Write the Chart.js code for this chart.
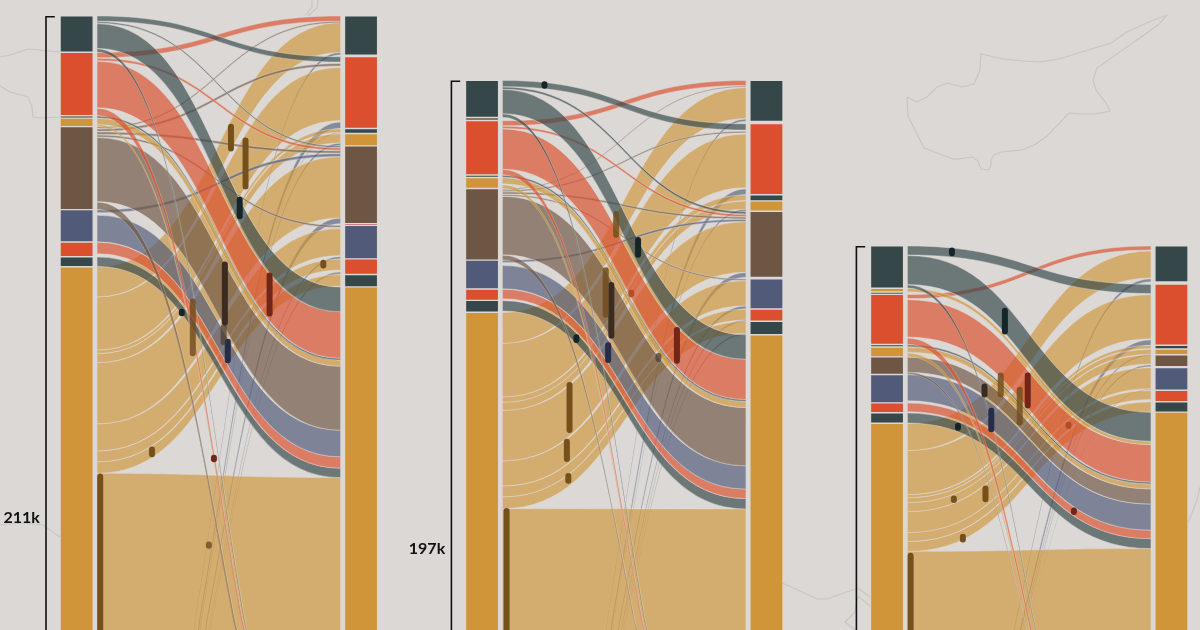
<!DOCTYPE html>
<html>
<head>
<meta charset="utf-8">
<title>Flows</title>
<style>
  html, body { margin: 0; padding: 0; background: #dbd8d5; overflow: hidden; }
  canvas { display: block; }
</style>
<script src="https://cdn.jsdelivr.net/npm/chart.js@4"></script>
</head>
<body>
<canvas id="myChart" width="1200" height="630"></canvas>
<script>
// values are in thousands
const panelLabels = ['211k', '197k', '164k'];
const panelTotals = [211, 197, 164];

// panel 1
const p1LeftNodes = ['A', 'B', 'C', 'D', 'E', 'F', 'G', 'H', 'I', 'L', 'J', 'K'];
const p1LeftValues = [7.6, 13.3, 0.4, 1.7, 17.4, 6.75, 3, 2, 121.55, 8, 3.8, 0.7];
const p1RightNodes = ['A', 'P', 'B', 'C', 'D', 'E', 'X', 'F', 'G', 'H', 'I', 'Y', 'Z'];
const p1RightValues = [8.2, 0.2, 15.1, 0.95, 2.5, 16.35, 0.2, 7, 3.2, 2.5, 118.2, 5, 8];
const p1RightStacks = ['B E I J', '', 'A E I J', 'I K', 'I J', 'A B E F I J', '', 'E I J', 'I K', 'I', 'A B C D E F G H I', 'D B A E', 'L'];
const p1From = ['A', 'A', 'A', 'A', 'B', 'B', 'B', 'B', 'C', 'D', 'D', 'E', 'E', 'E', 'E', 'E', 'E', 'F', 'F', 'G', 'H', 'I', 'I', 'I', 'I', 'I', 'I', 'I', 'I', 'I', 'L', 'J', 'J', 'J', 'J', 'J', 'K', 'K'];
const p1To = ['B', 'E', 'I', 'Y', 'A', 'E', 'I', 'Y', 'I', 'I', 'Y', 'A', 'B', 'E', 'F', 'I', 'Y', 'E', 'I', 'I', 'I', 'A', 'B', 'C', 'D', 'E', 'F', 'G', 'H', 'I', 'Z', 'A', 'B', 'D', 'E', 'F', 'C', 'G'];
const p1Flow = [1.1, 0.3, 5.2, 0.65, 1.1, 0.5, 9.8, 1.5, 0.4, 1.3, 0.4, 0.3, 0.5, 0.5, 0.4, 13.5, 1.5, 0.6, 5.6, 2.4, 2, 6.3, 11.2, 0.75, 1.9, 12.9, 5.7, 2.3, 2.4, 78, 8, 0.5, 1.3, 0.5, 1.1, 0.4, 0.2, 0.5];
const p1PillAt = [0.55, 0.61, 0.586, 0.525, 0.52, 0.709, 0.393, 0.348, 0.537, 0.225, 0.48, 0.459, 0.93, 0.012];
const p1PillFrom = [22.8, 25.7, 38.2, 51.9, 65.2, 54.2, 59.7, 62.4, 68.2, 90.9, 93.2, 111.5, 51.5, 96.6];
const p1PillTo = [28.5, 36.5, 42.8, 65.2, 69.4, 63.3, 71.7, 62.7, 73.2, 93, 93.5, 111.8, 53.2, 133];
const p1PillTone = ['g', 'g', 's', 'b', 'b2', 'r', 'g2', 's', 'n', 'g', 'r', 'g2', 'g', 'g'];

// panel 2
const p2LeftNodes = ['A', 'E2', 'B', 'C', 'D', 'E', 'F', 'G', 'H', 'I', 'L', 'J', 'K'];
const p2LeftValues = [7.75, 0.55, 11.4, 0.4, 2.25, 15, 6, 2.3, 2.4, 115.4, 10.5, 3.5, 0.8];
const p2RightNodes = ['A', 'P', 'B', 'C', 'D', 'E', 'P', 'F', 'G', 'H', 'I', 'Y', 'Z'];
const p2RightValues = [8.6, 0.35, 14.9, 1.2, 2.1, 13.85, 0.2, 6.25, 2.5, 2.75, 110.7, 4.3, 10.5];
const p2RightStacks = ['B E I J', '', 'A E I J', 'I', 'I J', 'A B E F I J', '', 'E I J', 'I K', 'I K', 'A B C D E F G H I', 'D B A E', 'L'];
const p2From = ['A', 'A', 'A', 'A', 'B', 'B', 'B', 'B', 'C', 'D', 'D', 'E', 'E', 'E', 'E', 'E', 'E', 'F', 'F', 'G', 'H', 'I', 'I', 'I', 'I', 'I', 'I', 'I', 'I', 'I', 'L', 'J', 'J', 'J', 'J', 'J', 'K', 'K'];
const p2To = ['B', 'E', 'I', 'Y', 'A', 'E', 'I', 'Y', 'I', 'I', 'Y', 'A', 'B', 'E', 'F', 'I', 'Y', 'E', 'I', 'I', 'I', 'A', 'B', 'C', 'D', 'E', 'F', 'G', 'H', 'I', 'Z', 'A', 'B', 'D', 'E', 'F', 'G', 'H'];
const p2Flow = [1.3, 0.5, 5.1, 0.7, 1.05, 0.5, 8.5, 1.1, 0.4, 1.3, 0.7, 0.2, 0.3, 0.4, 0.3, 12.3, 1, 0.45, 4.9, 2, 2.2, 6.5, 11.3, 1.15, 1.7, 10.65, 5.3, 2.3, 2.5, 74, 10.5, 0.45, 1.15, 0.4, 0.95, 0.55, 0.4, 0.4];
const p2PillAt = [0.172, 0.467, 0.557, 0.424, 0.447, 0.529, 0.303, 0.434, 0.717, 0.641, 0.275, 0.264, 0.27, 0.016];
const p2PillFrom = [0.8, 27.6, 33.1, 39.5, 42.6, 44.8, 53.6, 55.3, 52.1, 57.6, 63.7, 75.7, 82.9, 90.3];
const p2PillTo = [1.1, 33.1, 37.3, 50, 54.4, 45.1, 55.3, 59.5, 59.7, 59.3, 74.3, 80.4, 85, 133];
const p2PillTone = ['s', 'g2', 's', 'g2', 'b', 'o', 's', 'n', 'r', 'b2', 'g', 'g', 'g', 'g'];

// panel 3
const p3LeftNodes = ['A', 'D2', 'E2', 'B', 'C', 'D', 'E', 'F', 'G', 'H', 'I', 'J', 'K', 'L'];
const p3LeftValues = [8.85, 0.7, 0.4, 10.5, 0.4, 2, 3.6, 5.9, 2, 2.1, 88, 2.25, 0.2, 12];
const p3RightNodes = ['A', 'P', 'B', 'C', 'D', 'E', 'P', 'F', 'G', 'H', 'I', 'Z', 'Y'];
const p3RightValues = [7.55, 0.35, 12.8, 0.7, 1.1, 2.4, 0.1, 4.7, 2.3, 2.1, 89.75, 12, 3.4];
const p3RightStacks = ['B I J', '', 'A I J', 'I', 'I J', 'I J', '', 'I K', 'I', 'I', 'A D2 B C D E F G H I', 'L', 'D B A E'];
const p3From = ['A', 'A', 'A', 'D2', 'B', 'B', 'B', 'C', 'D', 'D', 'E', 'E', 'F', 'G', 'H', 'I', 'I', 'I', 'I', 'I', 'I', 'I', 'I', 'I', 'J', 'J', 'J', 'J', 'K', 'L'];
const p3To = ['B', 'I', 'Y', 'I', 'A', 'I', 'Y', 'I', 'I', 'Y', 'I', 'Y', 'I', 'I', 'I', 'A', 'B', 'C', 'D', 'E', 'F', 'G', 'H', 'I', 'A', 'B', 'D', 'E', 'F', 'Z'];
const p3Flow = [1.9, 6.1, 0.6, 0.7, 0.85, 7.9, 1.3, 0.4, 1.05, 0.7, 3.2, 0.4, 5.5, 1.8, 2.1, 5.7, 9.3, 0.65, 1.05, 1.9, 4.4, 1.9, 2.1, 61, 0.6, 1.05, 0.3, 0.3, 0.2, 12];
const p3PillAt = [0.182, 0.4, 0.316, 0.383, 0.461, 0.494, 0.344, 0.207, 0.662, 0.19, 0.32, 0.227, 0.684, 0.012];
const p3PillFrom = [0.4, 13.1, 29.1, 26.8, 29.8, 26.8, 34.2, 37.4, 37.7, 53.3, 50.6, 60.8, 55.8, 64.8];
const p3PillTo = [2.1, 18.6, 31.9, 31.9, 37.8, 34.2, 39.2, 38.9, 38, 53.6, 54, 62.5, 56.1, 133];
const p3PillTone = ['s', 's', 'b', 'g2', 'g2', 'r', 'n', 's', 'o', 'g', 'g', 'g', 'r', 'g'];

// faint map in the background
const mapCyprus = [[907, 97], [917, 102], [927, 97], [937, 87], [948, 83], [962, 87], [974, 84], [980, 70], [981, 54], [1003, 59], [1023, 61], [1040, 62], [1059, 59], [1111, 43], [1127, 32], [1151, 21], [1167, 15], [1158, 25], [1097, 68], [1093, 80], [1096, 90], [1106, 103], [1110, 111], [1095, 114], [1083, 114], [1069, 113], [1047, 136], [1036, 144], [1022, 150], [1001, 152], [994, 155], [991, 160], [991, 165], [989, 170], [981, 169], [978, 161], [972, 157], [958, 159], [953, 159], [924, 148], [908, 116], [907, 97]];
const mapCoasts = [
  [[0, 57], [10, 55], [28, 49], [60, 52]],
  [[0, 86], [10, 92], [28, 97], [32, 107], [33, 117], [40, 118], [60, 117]],
  [[318, 0], [317, 8], [308, 16]],
  [[312, 0], [312, 7], [306, 15]],
  [[0, 525], [23, 523], [43, 525], [60, 537]],
  [[782, 583], [800, 591], [817, 599], [827, 599], [858, 588], [870, 597]],
  [[870, 606], [858, 596], [855, 612], [845, 622], [855, 630]],
  [[1200, 487], [1197, 500], [1188, 523]]
];

// colours per node
const nodeColors = {
  A: '#36474a', B: '#db4f2e', C: '#36474a', D: '#d09539', D2: '#d09539', E: '#6e5645', E2: '#6e5645',
  F: '#515a79', G: '#db4f2e', H: '#36474a', I: '#d09539', L: '#d09539', J: '#515a79', K: '#6e5645',
  X: '#b8203a', P: '#dbd8d5', Y: '#d09539', Z: '#d09539'
};
const flowColors = {
  A: 'rgba(54,71,74,.67)', B: 'rgba(219,79,46,.67)', C: 'rgba(54,71,74,.67)', D: 'rgba(208,149,57,.67)', D2: 'rgba(208,149,57,.67)',
  E: 'rgba(110,86,69,.67)', E2: 'rgba(110,86,69,.67)', F: 'rgba(81,90,121,.67)', G: 'rgba(219,79,46,.67)', H: 'rgba(54,71,74,.67)',
  I: 'rgba(208,149,57,.65)', L: 'rgba(208,149,57,.65)', J: 'rgba(81,90,121,.62)', K: 'rgba(110,86,69,.5)'
};
const pillColors = {
  g: '#76501b', g2: 'rgba(112,76,30,.82)', s: '#15262b', b: '#3b2c22', b2: 'rgba(70,60,55,.7)',
  r: '#72261a', n: '#252d49', o: 'rgba(170,72,30,.85)'
};

// layout
const kToPx = 1000 / 211;
const panelTops = [16 / kToPx, 80.5 / kToPx, 246 / kToPx];
const panelLefts = [60.3, 465.7, 870.7];
const nodeWidth = 32.7;
const flowLeft = 37;
const flowRight = 280;
const rightNode = 284.4;
const nodeGap = 0.1;
const capTrim = 0.55;

const panels = [
  { leftNodes: p1LeftNodes, leftValues: p1LeftValues, rightNodes: p1RightNodes, rightValues: p1RightValues, stacks: p1RightStacks, from: p1From, to: p1To, flow: p1Flow, at: p1PillAt, pf: p1PillFrom, pt: p1PillTo, tone: p1PillTone },
  { leftNodes: p2LeftNodes, leftValues: p2LeftValues, rightNodes: p2RightNodes, rightValues: p2RightValues, stacks: p2RightStacks, from: p2From, to: p2To, flow: p2Flow, at: p2PillAt, pf: p2PillFrom, pt: p2PillTo, tone: p2PillTone },
  { leftNodes: p3LeftNodes, leftValues: p3LeftValues, rightNodes: p3RightNodes, rightValues: p3RightValues, stacks: p3RightStacks, from: p3From, to: p3To, flow: p3Flow, at: p3PillAt, pf: p3PillFrom, pt: p3PillTo, tone: p3PillTone }
];

// walks a column of nodes, gives node bars and the start of every flow in it
function stackColumn(nodes, values, top, flowsOf, startOf) {
  let y = top;
  let bars = [];
  nodes.forEach((key, n) => {
    bars.push({ key: key, from: y, to: y + values[n] });
    let list = flowsOf(key, n);
    let used = list.reduce((s, f) => s + f.value, 0);
    let spare = list.length > 1 ? Math.max(0, values[n] - used) / (list.length - 1) : 0;
    let inner = y;
    list.forEach(f => {
      startOf(f, inner);
      inner += f.value + spare;
    });
    y += values[n] + nodeGap;
  });
  return bars;
}

function buildPanel(p, idx) {
  let top = panelTops[idx];
  let left = panelLefts[idx];
  let flows = p.from.map((s, i) => ({ from: s, to: p.to[i], value: p.flow[i] }));

  let leftBars = stackColumn(p.leftNodes, p.leftValues, top,
    key => flows.filter(f => f.from === key),
    (f, y) => { f.y0 = y; });
  let rightBars = stackColumn(p.rightNodes, p.rightValues, top,
    (key, n) => p.stacks[n].split(' ').filter(s => s)
      .map(s => flows.find(f => f.from === s && f.to === key)).filter(f => f),
    (f, y) => { f.y1 = y; });

  let ribbons = flows.map(f => ({
    type: 'line', order: 4, showLine: false, pointRadius: 0,
    flowHeight: f.value, flowColor: flowColors[f.from],
    // the steep ones would disappear under a full edge line
    flowEdge: (f.to === 'Y' || f.from === 'J' || f.from === 'K') ? 0.5 : 0.8,
    data: [{ x: left + flowLeft, y: f.y0 }, { x: left + flowRight, y: f.y1 }]
  }));

  let bars = {
    type: 'bar', order: 3, barThickness: nodeWidth, borderWidth: 0.8, borderSkipped: false,
    borderColor: '#dbd8d5', grouped: false,
    backgroundColor: leftBars.concat(rightBars).map(b => nodeColors[b.key]),
    data: leftBars.map(b => ({ x: left + nodeWidth / 2, y: [b.from, b.to] }))
      .concat(rightBars.map(b => ({ x: left + rightNode + nodeWidth / 2, y: [b.from, b.to] })))
  };

  let pills = p.at.map((t, i) => {
    // round caps stick out past the ends
    let trim = p.pt[i] - p.pf[i] > 2 * capTrim ? capTrim : 0;
    let x = left + flowLeft + t * (flowRight - flowLeft);
    return {
      type: 'line', order: 2, pointRadius: 0, tension: 0, borderWidth: 6, borderCapStyle: 'round',
      borderColor: pillColors[p.tone[i]],
      data: [{ x: x, y: top + p.pf[i] + trim }, { x: x, y: top + p.pt[i] - trim }]
    };
  });

  let bracket = {
    type: 'line', order: 1, pointRadius: 0, tension: 0, borderWidth: 1.6, borderColor: '#111', borderJoinStyle: 'miter',
    data: [{ x: left - 5.5, y: top + 0.15 }, { x: left - 14.3, y: top + 0.15 }, { x: left - 14.3, y: top + panelTotals[idx] }]
  };
  return ribbons.concat([bars], pills, [bracket]);
}

// map strokes use their own hidden axis
function mapDataset(points) {
  return {
    type: 'line', order: 5, yAxisID: 'mapY', pointRadius: 0, tension: 0, borderWidth: 1.1, borderColor: '#c9c6be',
    data: points.map(pt => ({ x: pt[0], y: pt[1] }))
  };
}

// draws the curved ribbon for the datasets that have a flowHeight
const ribbonPlugin = {
  id: 'ribbons',
  afterDatasetDraw(chart, args) {
    let ds = chart.data.datasets[args.index];
    if (ds.flowHeight === undefined) return;
    let pts = args.meta.data;
    let scale = chart.scales.y;
    let h = scale.getPixelForValue(ds.data[0].y + ds.flowHeight) - pts[0].y;
    let x0 = pts[0].x, y0 = pts[0].y, x1 = pts[1].x, y1 = pts[1].y, xm = (x0 + x1) / 2;
    let ctx = chart.ctx;
    ctx.save();
    ctx.beginPath();
    ctx.moveTo(x0, y0);
    ctx.bezierCurveTo(xm, y0, xm, y1, x1, y1);
    ctx.lineTo(x1, y1 + h);
    ctx.bezierCurveTo(xm, y1 + h, xm, y0 + h, x0, y0 + h);
    ctx.closePath();
    ctx.fillStyle = ds.flowColor;
    ctx.fill();
    ctx.strokeStyle = 'rgba(224,221,218,.55)';
    ctx.lineWidth = ds.flowEdge;
    ctx.beginPath();
    ctx.moveTo(x0, y0);
    ctx.bezierCurveTo(xm, y0, xm, y1, x1, y1);
    ctx.moveTo(x1, y1 + h);
    ctx.bezierCurveTo(xm, y1 + h, xm, y0 + h, x0, y0 + h);
    ctx.stroke();
    ctx.restore();
  },
  afterDraw(chart) {
    let ctx = chart.ctx;
    ctx.save();
    ctx.fillStyle = '#111';
    ctx.font = '700 16px Lato';
    ctx.textAlign = 'right';
    ctx.textBaseline = 'middle';
    panelLabels.forEach((label, i) => {
      let x = chart.scales.x.getPixelForValue(panelLefts[i] - 20.5);
      let y = chart.scales.y.getPixelForValue(panelTops[i] + panelTotals[i] / 2);
      ctx.fillText(label, x, y + 2);
    });
    ctx.restore();
  }
};

let datasets = [mapDataset(mapCyprus)].concat(mapCoasts.map(mapDataset));
panels.forEach((p, i) => { datasets = datasets.concat(buildPanel(p, i)); });

new Chart(document.getElementById('myChart'), {
  type: 'line',
  data: { datasets: datasets },
  plugins: [ribbonPlugin],
  options: {
    responsive: false,
    animation: false,
    devicePixelRatio: 1,
    layout: { padding: 0 },
    plugins: { legend: { display: false }, tooltip: { enabled: false } },
    scales: {
      x: { type: 'linear', display: false, offset: false, min: 0, max: 1200 },
      y: { type: 'linear', display: false, reverse: true, min: 0, max: 630 / kToPx },
      mapY: { type: 'linear', display: false, reverse: true, min: 0, max: 630 }
    }
  }
});
</script>
</body>
</html>
